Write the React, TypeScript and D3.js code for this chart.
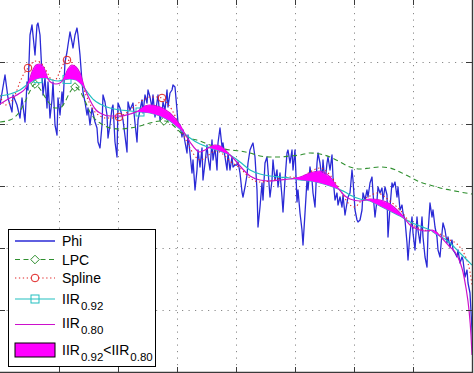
import React from "react";
import * as d3 from "d3";

const W = 474;
const H = 373;

// axis ticks (frame index / value units)
const xTicks = [0, 59, 118, 177, 236, 295, 354, 413, 472];
const yTicks = [0, 62, 124, 186, 248, 310, 372];

// Phi (raw, noisy)
const phi: [number, number][] = [
  [0, 267], [5, 297], [8, 274], [12, 260], [13, 277], [17, 267], [20, 254], [22, 274], [25, 250], [27, 290], [28, 282],
  [30, 337], [32, 347], [33, 337], [35, 317], [37, 347], [38, 349], [40, 337], [42, 297], [43, 277], [45, 294], [47, 264],
  [48, 290], [50, 254], [52, 272], [53, 290], [55, 247], [57, 237], [58, 274], [60, 257], [62, 280], [63, 267], [65, 310],
  [67, 320], [68, 327], [70, 340], [72, 330], [73, 324], [75, 337], [77, 344], [78, 337], [80, 317], [82, 290], [83, 280],
  [85, 270], [87, 257], [88, 264], [90, 247], [92, 264], [95, 250], [97, 244], [98, 230], [100, 224], [102, 247], [103, 277],
  [105, 270], [107, 257], [108, 234], [110, 247], [112, 264], [113, 267], [115, 230], [117, 215], [118, 269], [120, 264],
  [123, 252], [127, 220], [128, 270], [130, 262], [133, 269], [135, 249], [137, 230], [138, 252], [140, 262], [142, 272],
  [143, 259], [145, 277], [147, 269], [148, 282], [150, 275], [152, 264], [153, 277], [155, 255], [157, 270], [158, 277],
  [160, 252], [162, 259], [163, 270], [165, 262], [167, 282], [168, 265], [170, 279], [172, 282], [173, 287], [175, 285],
  [177, 262], [178, 249], [180, 247], [182, 235], [183, 242], [185, 230], [187, 219], [188, 237], [190, 219], [192, 199],
  [193, 212], [195, 182], [197, 202], [198, 222], [200, 205], [202, 224], [203, 192], [205, 209], [207, 227], [208, 215],
  [210, 202], [212, 232], [213, 212], [215, 224], [217, 202], [218, 229], [220, 244], [222, 225], [223, 229], [225, 215],
  [227, 202], [228, 219], [230, 202], [232, 215], [233, 205], [235, 207], [237, 207], [238, 210], [240, 199], [242, 180],
  [243, 175], [245, 185], [247, 197], [248, 209], [250, 222], [252, 227], [253, 229], [255, 215], [257, 182], [258, 145],
  [260, 165], [262, 189], [263, 172], [265, 209], [267, 215], [268, 202], [270, 175], [272, 192], [273, 212], [275, 192],
  [277, 202], [278, 185], [280, 199], [282, 175], [283, 160], [285, 192], [287, 219], [288, 222], [290, 209], [292, 222],
  [293, 202], [295, 222], [297, 170], [298, 182], [300, 159], [302, 142], [303, 127], [305, 159], [307, 192], [308, 182],
  [310, 205], [312, 192], [313, 179], [315, 165], [317, 209], [318, 219], [320, 209], [322, 192], [323, 212], [325, 189],
  [327, 209], [328, 215], [330, 202], [332, 217], [333, 195], [335, 172], [337, 179], [338, 167], [340, 175], [342, 165],
  [343, 177], [345, 157], [347, 169], [348, 175], [350, 179], [352, 202], [353, 192], [355, 162], [357, 152], [358, 150],
  [360, 152], [362, 162], [363, 179], [365, 172], [367, 182], [368, 175], [370, 189], [372, 195], [373, 179], [375, 155],
  [377, 172], [378, 185], [380, 179], [382, 184], [383, 172], [385, 185], [387, 177], [388, 135], [390, 165], [392, 189],
  [393, 185], [395, 190], [397, 175], [398, 185], [400, 162], [402, 167], [403, 159], [405, 152], [407, 129], [408, 112],
  [410, 139], [412, 155], [413, 139], [415, 122], [417, 155], [418, 142], [420, 129], [422, 155], [423, 135], [425, 115],
  [427, 105], [428, 139], [430, 169], [432, 155], [433, 162], [435, 145], [437, 135], [438, 122], [440, 115], [442, 139],
  [443, 149], [445, 142], [447, 129], [448, 135], [450, 125], [452, 132], [453, 122], [455, 119], [457, 115], [458, 122],
  [460, 109], [462, 115], [463, 112], [465, 95], [467, 102], [468, 89], [470, 79], [472, 42], [473, 20],
];

// LPC envelope
const lpc: [number, number][] = [
  [0, 250], [10, 252], [15, 255], [20, 261], [25, 270], [30, 281], [35, 288], [40, 283], [45, 275], [50, 268], [55, 264],
  [60, 264], [65, 270], [70, 280], [75, 285], [80, 281], [85, 271], [90, 260], [95, 253], [100, 249], [110, 244], [120, 243],
  [130, 244], [140, 246], [150, 249], [160, 251], [165, 251], [170, 249], [175, 245], [180, 240], [190, 234], [200, 231],
  [210, 227], [220, 224], [230, 222], [240, 221], [250, 219], [260, 216], [270, 215], [280, 215], [290, 216], [300, 217],
  [310, 219], [320, 218], [330, 215], [340, 210], [350, 205], [360, 203], [370, 204], [380, 205], [390, 204], [400, 200],
  [410, 195], [420, 190], [430, 187], [440, 184], [450, 182], [460, 180], [472, 178],
];

// Spline
const spline: [number, number][] = [
  [0, 277], [5, 267], [10, 269], [15, 277], [20, 290], [25, 300], [28, 304], [32, 309], [36, 311], [40, 310], [44, 305],
  [48, 298], [52, 292], [56, 293], [60, 301], [64, 309], [67, 312], [70, 311], [74, 307], [78, 299], [82, 288], [86, 277],
  [90, 268], [95, 260], [100, 256], [105, 254], [112, 254], [119, 255], [125, 258], [130, 262], [135, 266], [140, 270],
  [145, 273], [150, 275], [156, 275], [162, 274], [168, 268], [172, 262], [176, 254], [180, 244], [185, 234], [190, 224],
  [195, 216], [200, 212], [205, 214], [210, 218], [215, 221], [220, 220], [225, 216], [230, 211], [240, 204], [250, 194],
  [260, 190], [270, 191], [280, 194], [290, 195], [300, 194], [310, 200], [320, 204], [330, 197], [340, 182], [350, 167],
  [355, 165], [360, 170], [370, 176], [377, 179], [385, 175], [390, 171], [400, 162], [410, 150], [420, 143], [430, 141],
  [440, 138], [450, 132], [457, 128], [462, 122], [466, 114], [470, 100], [472, 87],
];

// IIR, alpha = 0.92
const iir92: [number, number][] = [
  [0, 276], [10, 278], [20, 282], [28, 288], [34, 292], [40, 294], [46, 294], [52, 292], [58, 291], [63, 292], [70, 293],
  [76, 292], [82, 287], [85, 283], [88, 279], [94, 272], [100, 268], [110, 264], [120, 262], [130, 261], [140, 260],
  [150, 259], [160, 256], [170, 251], [180, 243], [185, 238], [190, 234], [200, 228], [205, 226], [210, 224], [220, 221],
  [230, 217], [240, 210], [250, 202], [260, 198], [270, 196], [280, 195], [290, 194], [300, 192], [310, 191], [320, 189],
  [330, 186], [338, 183], [345, 180], [350, 177], [360, 173], [370, 171], [380, 166], [390, 161], [400, 156], [405, 153],
  [410, 150], [420, 146], [425, 144], [432, 141], [436, 138], [440, 136], [450, 129], [460, 119], [466, 113], [472, 107],
];

// IIR, alpha = 0.80
const iir80: [number, number][] = [
  [0, 268], [5, 271], [10, 274], [15, 276], [20, 279], [25, 283], [28, 288], [32, 300], [36, 307], [40, 308], [44, 304],
  [48, 293], [52, 289], [56, 288], [60, 289], [63, 292], [68, 303], [72, 307], [76, 305], [80, 299], [85, 283], [88, 276],
  [92, 268], [96, 262], [100, 259], [110, 256], [120, 256], [130, 258], [138, 261], [145, 266], [150, 267], [160, 265],
  [170, 259], [180, 247], [185, 238], [190, 230], [200, 220], [205, 222], [210, 225], [215, 227], [220, 226], [225, 222],
  [230, 217], [235, 212], [240, 206], [250, 196], [260, 192], [270, 191], [280, 192], [290, 193], [297, 194], [303, 196],
  [310, 199], [320, 201], [330, 195], [338, 184], [345, 176], [350, 173], [360, 171], [370, 173], [380, 172], [390, 168],
  [400, 159], [405, 153], [410, 147], [420, 142], [425, 141], [432, 142], [436, 140], [440, 136], [450, 125], [455, 120],
  [460, 110], [463, 100], [466, 84], [469, 62], [471, 37], [472, 17],
];

// marker positions (frame index)
const lpcMarkers = [35, 75, 164];
const splineMarkers = [28, 67, 119, 162];
const iir92Markers = [38, 67, 140];

const COL_PHI = "#2a2ad6";
const COL_LPC = "#2f8f2f";
const COL_SPL = "#e02424";
const COL_I92 = "#22bfc0";
const COL_I80 = "#cc10cc";
const COL_FILL = "#ff00ff";

const FONT = "'Liberation Sans', Arial, Helvetica, sans-serif";

function interp(series: [number, number][], x: number): number {
  const i = d3.bisector((d: [number, number]) => d[0]).left(series, x);
  if (i <= 0) return series[0][1];
  if (i >= series.length) return series[series.length - 1][1];
  const [x0, y0] = series[i - 1];
  const [x1, y1] = series[i];
  if (x1 === x) return y1;
  return y0 + ((y1 - y0) * (x - x0)) / (x1 - x0);
}

export default function App() {
  const x = d3.scaleLinear().domain([0, 472]).range([0, 472]);
  const y = d3.scaleLinear().domain([0, 372]).range([372, 0]);

  const lineLin = d3
    .line<[number, number]>()
    .x((d) => x(d[0]))
    .y((d) => y(d[1]));
  const lineSmooth = d3
    .line<[number, number]>()
    .x((d) => x(d[0]))
    .y((d) => y(d[1]))
    .curve(d3.curveMonotoneX);

  const fillXs = d3.range(0, 472.001, 0.5);
  const area = d3
    .area<number>()
    .x((d) => x(d))
    .y0((d) => y(interp(iir92, d)))
    .y1((d) => y(Math.max(interp(iir80, d), interp(iir92, d))));

  const [x0, x1] = x.range();
  const [yb, yt] = y.range();

  const diamond = (cx: number, cy: number, r: number) =>
    `M${cx},${cy - r}L${cx + r},${cy}L${cx},${cy + r}L${cx - r},${cy}Z`;

  const legX0 = 15;
  const legX1 = 55;
  const legMid = 35;
  const textX = 62;

  return (
    <div style={{ position: "fixed", left: 0, top: 0, width: W, height: H }}>
      <svg width={W} height={H} style={{ display: "block", background: "#fff" }}>
        <defs>
          <clipPath id="plotclip">
            <rect x={x0} y={yt} width={x1 - x0} height={yb - yt} />
          </clipPath>
        </defs>
        <rect x={0} y={0} width={W} height={H} fill="#fff" />
        {/* grid */}
        <g stroke="#8a8a8a" strokeWidth={1} strokeDasharray="1.2,5.3">
          {xTicks.slice(1, -1).map((t) => (
            <line key={"gx" + t} x1={Math.round(x(t)) + 0.5} x2={Math.round(x(t)) + 0.5} y1={yt} y2={yb} />
          ))}
          {yTicks.slice(1, -1).map((t) => (
            <line key={"gy" + t} x1={x0} x2={x1} y1={Math.round(y(t)) + 0.5} y2={Math.round(y(t)) + 0.5} />
          ))}
        </g>
        {/* data */}
        <g clipPath="url(#plotclip)" fill="none">
          <path d={lineLin(phi) || ""} stroke={COL_PHI} strokeWidth={1.3} strokeLinejoin="round" />
          <path d={lineSmooth(lpc) || ""} stroke={COL_LPC} strokeWidth={1.1} strokeDasharray="5,3.5" />
          {lpcMarkers.map((m) => (
            <path key={"dm" + m} d={diamond(x(m), y(interp(lpc, m)), 4.3)} stroke={COL_LPC} strokeWidth={1} fill="none" />
          ))}
          <path d={lineSmooth(spline) || ""} stroke={COL_SPL} strokeWidth={1.1} strokeDasharray="1.3,2.6" />
          {splineMarkers.map((m) => (
            <circle key={"cm" + m} cx={x(m)} cy={y(interp(spline, m))} r={3.8} stroke={COL_SPL} strokeWidth={1} fill="none" />
          ))}
          <path d={lineSmooth(iir92) || ""} stroke={COL_I92} strokeWidth={1.2} />
          {iir92Markers.map((m) => (
            <rect key={"sm" + m} x={x(m) - 4} y={y(interp(iir92, m)) - 4} width={8} height={8} stroke={COL_I92} strokeWidth={1} fill="none" />
          ))}
          <path d={lineSmooth(iir80) || ""} stroke={COL_I80} strokeWidth={1.2} />
          <path d={area(fillXs) || ""} fill={COL_FILL} stroke="none" />
        </g>
        {/* axes frame */}
        <g stroke="#3a3a3a" strokeWidth={1}>
          <line x1={x1 + 0.5} x2={x1 + 0.5} y1={yt} y2={yb + 1} strokeWidth={1.4} />
          <line x1={x0} x2={x1 + 1} y1={yb + 0.5} y2={yb + 0.5} strokeWidth={1.4} />
          {xTicks.slice(1, -1).map((t) => (
            <g key={"tx" + t}>
              <line x1={Math.round(x(t)) + 0.5} x2={Math.round(x(t)) + 0.5} y1={yt} y2={yt + 5} />
              <line x1={Math.round(x(t)) + 0.5} x2={Math.round(x(t)) + 0.5} y1={yb} y2={yb - 5} />
            </g>
          ))}
          {yTicks.slice(1, -1).map((t) => (
            <g key={"ty" + t}>
              <line x1={x0} x2={x0 + 5} y1={Math.round(y(t)) + 0.5} y2={Math.round(y(t)) + 0.5} />
              <line x1={x1} x2={x1 - 6} y1={Math.round(y(t)) + 0.5} y2={Math.round(y(t)) + 0.5} />
            </g>
          ))}
        </g>
        {/* legend */}
        <g fontFamily={FONT} fontSize={14} fill="#000">
          <rect x={8.5} y={229.5} width={147} height={137} fill="#fff" stroke="#000" strokeWidth={1} />
          <line x1={legX0} x2={legX1} y1={241} y2={241} stroke={COL_PHI} strokeWidth={1.3} />
          <text x={textX} y={246}>Phi</text>

          <line x1={legX0} x2={legX1} y1={259.5} y2={259.5} stroke={COL_LPC} strokeWidth={1.1} strokeDasharray="5,3.5" />
          <path d={diamond(legMid, 259.5, 4.3)} stroke={COL_LPC} fill="#fff" strokeWidth={1} />
          <text x={textX} y={264.5}>LPC</text>

          <line x1={legX0} x2={legX1} y1={278} y2={278} stroke={COL_SPL} strokeWidth={1.1} strokeDasharray="1.3,2.6" />
          <circle cx={legMid} cy={278} r={3.8} stroke={COL_SPL} fill="#fff" strokeWidth={1} />
          <text x={textX} y={283}>Spline</text>

          <line x1={legX0} x2={legX1} y1={299} y2={299} stroke={COL_I92} strokeWidth={1.2} />
          <rect x={legMid - 4} y={295} width={8} height={8} stroke={COL_I92} fill="none" strokeWidth={1} />
          <text x={textX} y={303.5}>
            IIR<tspan fontSize={11.5} dx={1} dy={6}>0.92</tspan>
          </text>

          <line x1={legX0} x2={legX1} y1={324.5} y2={324.5} stroke={COL_I80} strokeWidth={1.2} />
          <text x={textX} y={327.5}>
            IIR<tspan fontSize={11.5} dx={1} dy={6}>0.80</tspan>
          </text>

          <rect x={legX0} y={343} width={legX1 - legX0} height={14} fill={COL_FILL} stroke="#000" strokeWidth={1} />
          <text x={textX} y={355}>
            IIR<tspan fontSize={11.5} dx={1} dy={6}>0.92</tspan>
            <tspan dy={-6}>&lt;IIR</tspan>
            <tspan fontSize={11.5} dx={1} dy={6}>0.80</tspan>
          </text>
        </g>
      </svg>
    </div>
  );
}
